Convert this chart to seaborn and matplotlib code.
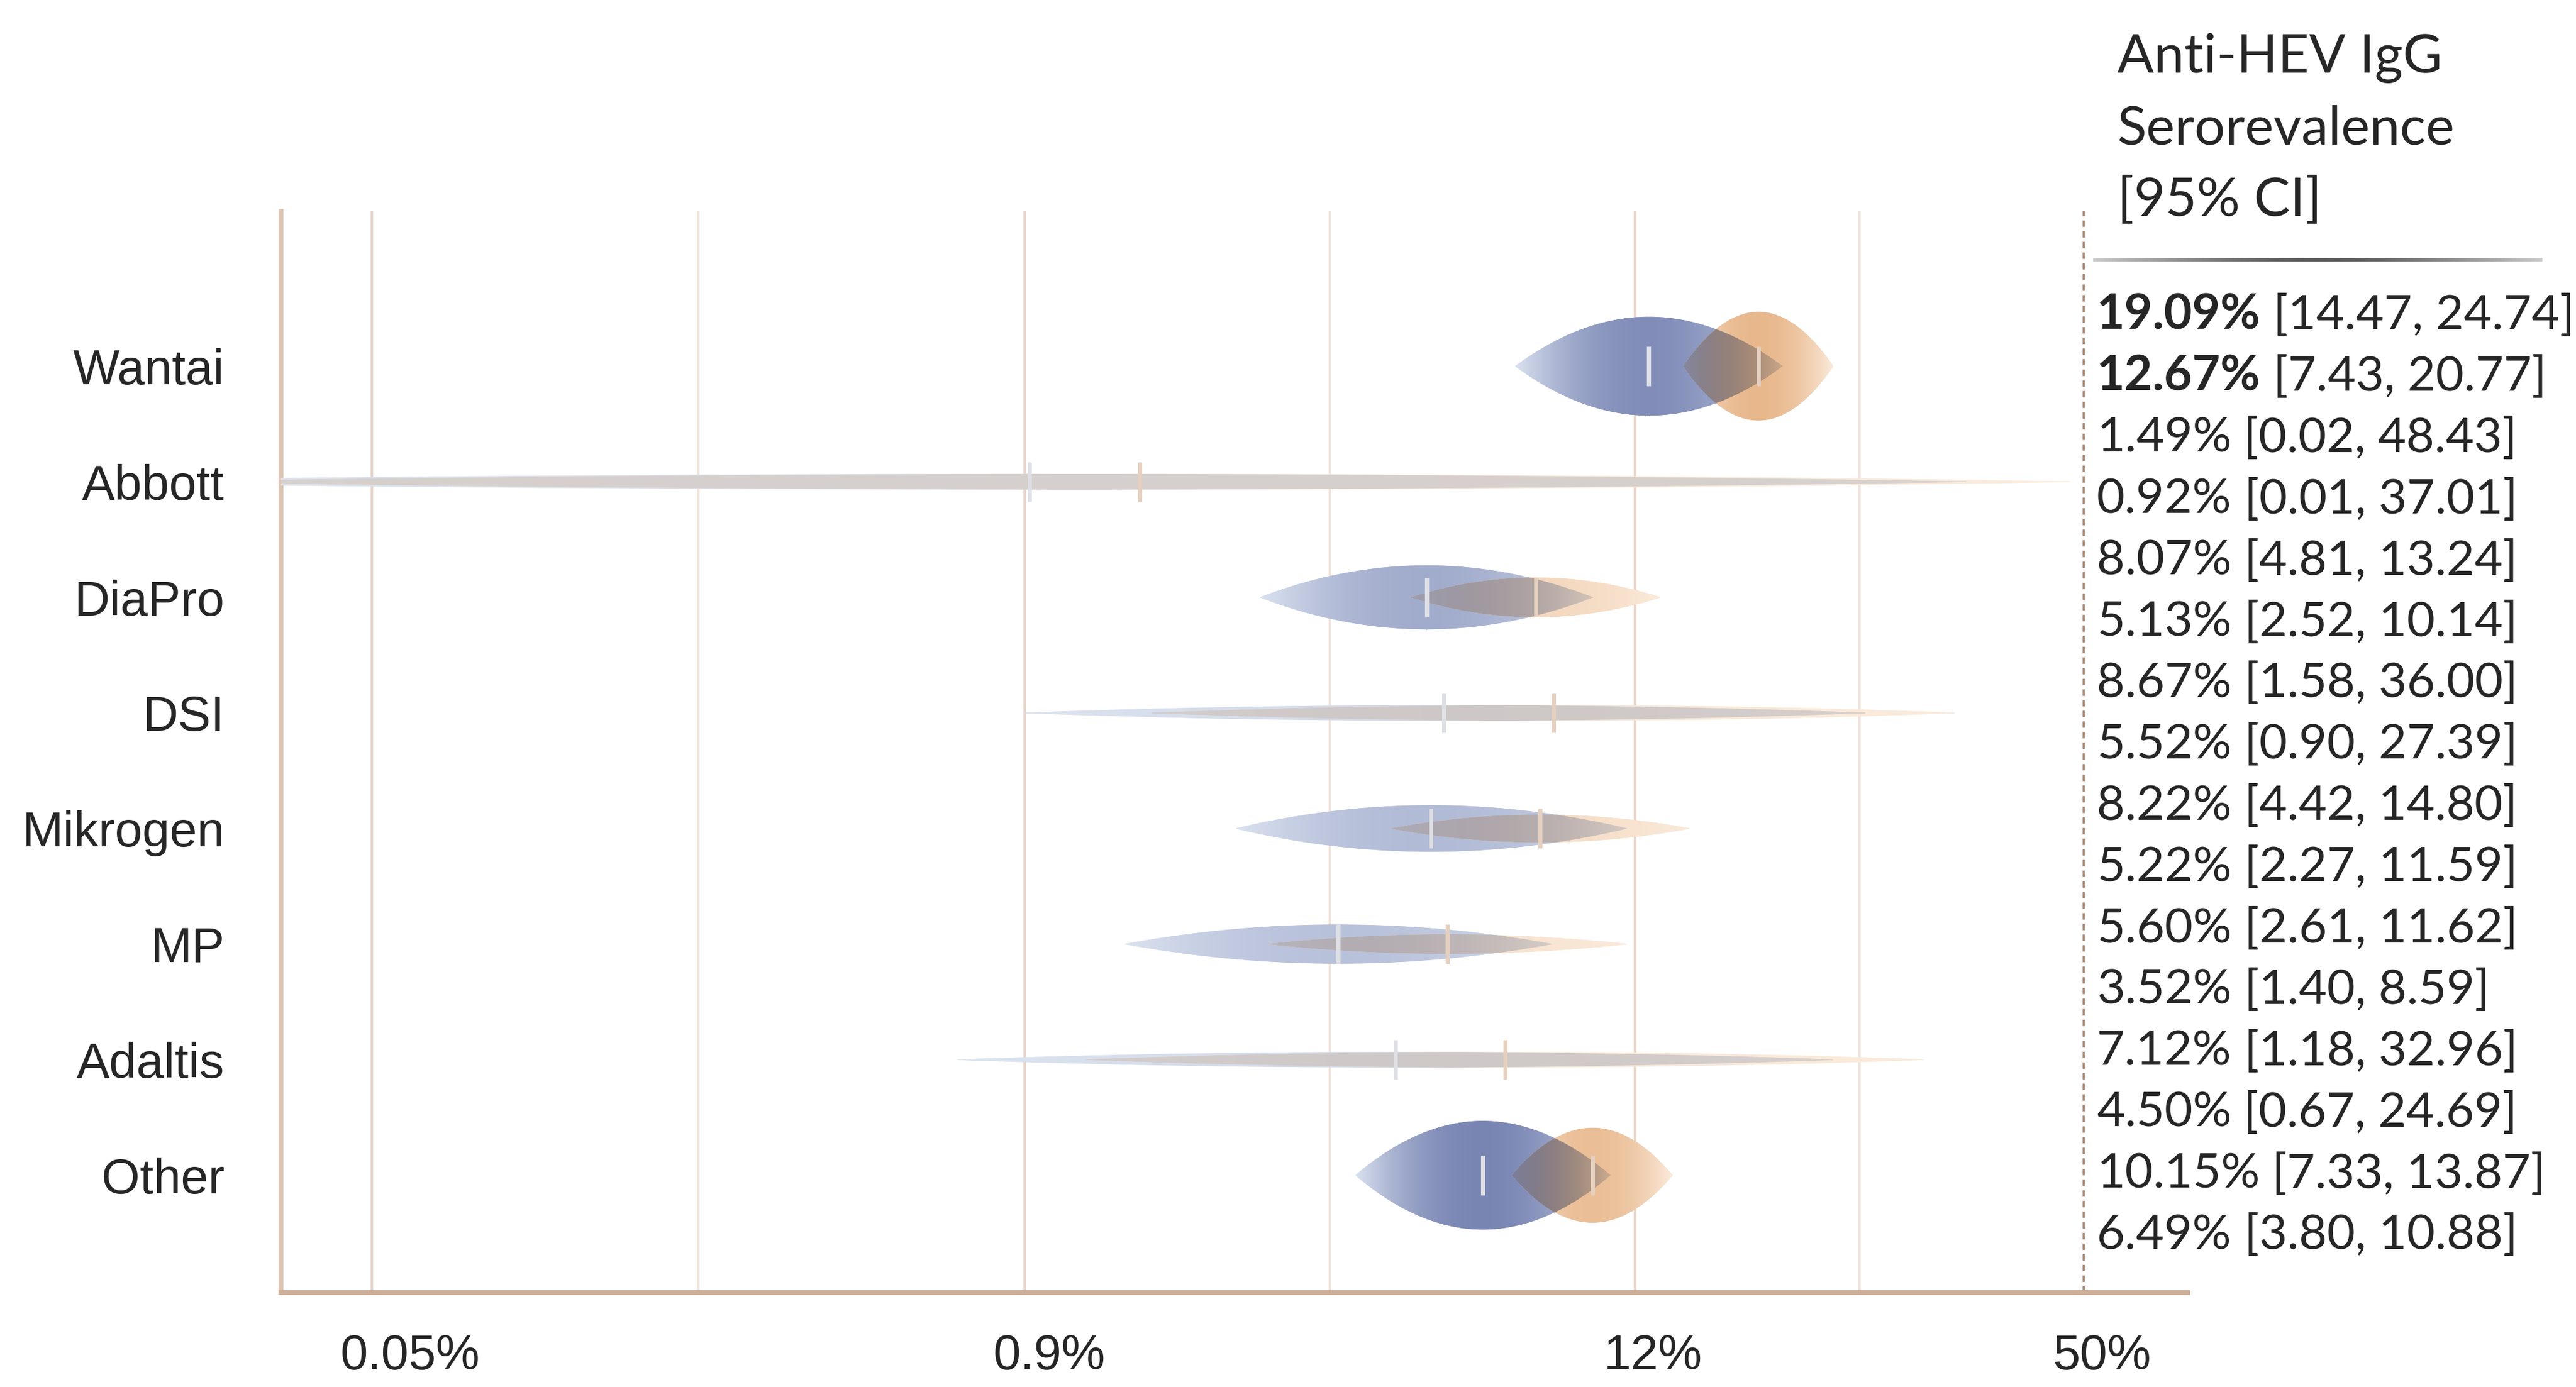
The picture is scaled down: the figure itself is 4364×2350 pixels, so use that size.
import numpy as np
import pandas as pd
import matplotlib
matplotlib.use('Agg')
import matplotlib.pyplot as plt
import matplotlib.transforms as mtransforms
from matplotlib.collections import PolyCollection, LineCollection
import seaborn as sns

# ---- data ----
manufacturers = ['Wantai', 'Abbott', 'DiaPro', 'DSI', 'Mikrogen', 'MP', 'Adaltis', 'Other']

# first line of each pair in the table (orange drops)
prev_a = [19.09, 1.49, 8.07, 8.67, 8.22, 5.60, 7.12, 10.15]
lo_a = [14.47, 0.02, 4.81, 1.58, 4.42, 2.61, 1.18, 7.33]
hi_a = [24.74, 48.43, 13.24, 36.00, 14.80, 11.62, 32.96, 13.87]

# second line of each pair (blue drops)
prev_b = [12.67, 0.92, 5.13, 5.52, 5.22, 3.52, 4.50, 6.49]
lo_b = [7.43, 0.01, 2.52, 0.90, 2.27, 1.40, 0.67, 3.80]
hi_b = [20.77, 37.01, 10.14, 27.39, 11.59, 8.59, 24.69, 10.88]

tick_values = [0.05, 0.9, 12, 50]
tick_labels = ['0.05%', '0.9%', '12%', '50%']
bold_lines = [0, 1]
title_lines = ['Anti-HEV IgG', 'Serorevalence', '[95% CI]']

# ---- styling ----
W_PX, H_PX, DPI = 4364, 2350, 200
BLUE_LIGHT = np.array([0.86, 0.89, 0.94])
BLUE_DARK = np.array([0.47, 0.52, 0.70])
ORANGE_LIGHT = np.array([0.98, 0.92, 0.86])
ORANGE_DARK = np.array([0.91, 0.72, 0.55])
TAN = '#cdae98'
H_HALF = 0.467   # half height (rows) of the heaviest drop in a series
H_MIN = 0.065


def logit(p):
    p = np.asarray(p, dtype=float)
    return np.log(p / (1 - p))


def expit(x):
    return 1 / (1 + np.exp(-x))


def profile(x, m, lo, hi):
    z = np.where(x < m, (x - m) / (m - lo), (x - m) / (hi - m))
    return np.clip(1 - z ** 2, 0, None)


def series_params(prev, lo, hi):
    m = logit(np.array(prev) / 100)
    l = logit(np.array(lo) / 100)
    h = logit(np.array(hi) / 100)
    weight = 1 / (h - l) ** 2
    relw = weight / weight.max()
    return m, l, h, relw


def strips(xg, y, half, colors):
    polys, cols = [], []
    p = expit(xg)
    for i in range(len(xg) - 1):
        if max(half[i], half[i + 1]) <= 0:
            continue
        polys.append([(p[i], y - half[i]), (p[i + 1], y - half[i + 1]),
                      (p[i + 1], y + half[i + 1]), (p[i], y + half[i])])
        cols.append(np.clip((colors[i] + colors[i + 1]) / 2, 0, 1))
    return polys, cols


sns.set_style('white')
plt.rcParams['font.family'] = ['Liberation Sans', 'DejaVu Sans']

fig = plt.figure(figsize=(W_PX / DPI, H_PX / DPI), dpi=DPI)
ax = fig.add_axes([476 / W_PX, 1 - 2190 / H_PX, (3706 - 476) / W_PX, (2190 - 358) / H_PX])

ma, la, ha, wa = series_params(prev_a, lo_a, hi_a)
mb, lb, hb, wb = series_params(prev_b, lo_b, hi_b)

all_polys = {'b': ([], []), 'a': ([], []), 'o': ([], [])}
for r in range(len(manufacturers)):
    xg = np.linspace(min(la[r], lb[r]), max(ha[r], hb[r]), 700)
    pa = profile(xg, ma[r], la[r], ha[r])
    pb = profile(xg, mb[r], lb[r], hb[r])
    half_a = max(H_HALF * wa[r], H_MIN) * pa
    half_b = max(H_HALF * wb[r], H_MIN) * pb
    col_a = ORANGE_LIGHT + (ORANGE_DARK - ORANGE_LIGHT) * (wa[r] * pa)[:, None]
    col_b = BLUE_LIGHT + (BLUE_DARK - BLUE_LIGHT) * (wb[r] * pb)[:, None]
    half_o = np.minimum(half_a, half_b)
    col_o = col_a * col_b
    for key, half, col in (('b', half_b, col_b), ('a', half_a, col_a), ('o', half_o, col_o)):
        polys, cols = strips(xg, r, half, col)
        all_polys[key][0].extend(polys)
        all_polys[key][1].extend(cols)

for z, key in enumerate(['b', 'a', 'o']):
    polys, cols = all_polys[key]
    pc = PolyCollection(polys, facecolors=cols, edgecolors=cols, linewidths=0.4, zorder=3 + z)
    ax.add_collection(pc)

# point estimates
est = pd.DataFrame({
    'p': np.r_[np.array(prev_b), np.array(prev_a)] / 100,
    'row': np.r_[np.arange(len(manufacturers)), np.arange(len(manufacturers))],
    'series': ['b'] * len(manufacturers) + ['a'] * len(manufacturers),
})
sns.scatterplot(data=est, x='p', y='row', hue='series', palette={'b': '#dfe0e5', 'a': '#e6d0c0'},
                marker='|', s=24 ** 2, linewidth=2.5, legend=False, ax=ax, zorder=10)

ax.set_xscale('logit')
ax.set_xlim(expit(-8.003), expit(0.461))
ax.set_ylim(8.015, -1.34)
ax.set_xlabel('')
ax.set_ylabel('')

# grid: labelled ticks plus midpoints in logit space
tick_p = np.array(tick_values) / 100
tick_lg = logit(tick_p)
for lg in tick_lg[:-1]:
    ax.axvline(expit(lg), color='#e8d5c9', lw=1.6, zorder=1)
for lg in (tick_lg[:-1] + tick_lg[1:]) / 2:
    ax.axvline(expit(lg), color='#f0e4dc', lw=1.6, zorder=1)
ax.axvline(tick_p[-1], color='#a98670', lw=1.3, ls=(0, (3, 2)), zorder=2)

ax.set_xticks(tick_p)
ax.set_xticklabels(tick_labels)
ax.xaxis.set_minor_locator(matplotlib.ticker.NullLocator())
ax.set_yticks(range(len(manufacturers)))
ax.set_yticklabels(manufacturers)
ax.tick_params(axis='x', length=5, width=1.5, color='#bfa08a', pad=20, labelsize=30)
ax.tick_params(axis='y', length=5.5, width=1.5, color='#bfa08a', pad=29, labelsize=30)
offset = mtransforms.ScaledTranslation(-19 / 72, 0, fig.dpi_scale_trans)
for lab in ax.get_xticklabels():
    lab.set_ha('left')
    lab.set_transform(lab.get_transform() + offset)

for side in ['top', 'right']:
    ax.spines[side].set_visible(False)
ax.spines['bottom'].set_color(TAN)
ax.spines['bottom'].set_linewidth(3)
ax.spines['left'].set_color('#dcc5b5')
ax.spines['left'].set_linewidth(3)

# ---- table on the right ----
txt_font = ['Lato', 'DejaVu Sans']
for i, line in enumerate(title_lines):
    fig.text(3587 / W_PX, 1 - (123 + 121.5 * i) / H_PX, line, fontsize=33,
             family=txt_font, va='baseline', ha='left')

# separator line with a gray gradient
xs = np.linspace(3546, 4307, 120) / W_PX
segs = [[(xs[i], 1 - 440 / H_PX), (xs[i + 1], 1 - 440 / H_PX)] for i in range(len(xs) - 1)]
u = np.linspace(-1, 1, len(segs))
shade = 0.35 + 0.45 * np.abs(u) ** 1.5
fig.add_artist(LineCollection(segs, colors=[(s, s, s) for s in shade], linewidths=2.2,
                              transform=fig.transFigure))

fig.canvas.draw()
renderer = fig.canvas.get_renderer()
lines = []
for r in range(len(manufacturers)):
    lines.append((prev_a[r], lo_a[r], hi_a[r]))
    lines.append((prev_b[r], lo_b[r], hi_b[r]))
for i, (pv, lo, hi) in enumerate(lines):
    y = 1 - (558 + 103.9 * i) / H_PX
    t1 = fig.text(3552 / W_PX, y, f'{pv:.2f}%', fontsize=29.6, family=txt_font, va='baseline',
                  ha='left', fontweight='bold' if i in bold_lines else 'normal')
    bb = t1.get_window_extent(renderer)
    fig.text(bb.x1 / W_PX, y, f' [{lo:.2f}, {hi:.2f}]', fontsize=29.6, family=txt_font,
             va='baseline', ha='left')

fig.savefig('out.png', dpi=DPI)
